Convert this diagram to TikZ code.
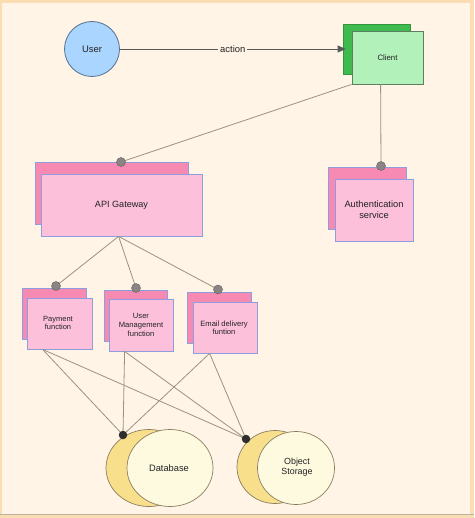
\documentclass[tikz,border=0pt]{standalone}
\usepackage{fontspec}
\setmainfont{Liberation Sans}
\usetikzlibrary{arrows.meta,shapes.geometric}
\definecolor{frameorange}{HTML}{FBDDB3}
\definecolor{cream}{HTML}{FFF4E6}
\definecolor{userfill}{HTML}{A9D5FF}
\definecolor{userstroke}{HTML}{56708F}
\definecolor{greenback}{HTML}{3EBA4E}
\definecolor{greenfront}{HTML}{B2F1B9}
\definecolor{greenstroke}{HTML}{5E7F62}
\definecolor{pinkback}{HTML}{F68AB3}
\definecolor{pinkfront}{HTML}{FCC0DA}
\definecolor{pinkstroke}{HTML}{8E9DDE}
\definecolor{yellowback}{HTML}{F8DF8C}
\definecolor{yellowfront}{HTML}{FEFADF}
\definecolor{ellstroke}{HTML}{8B7D62}
\definecolor{connline}{HTML}{9A9282}
\definecolor{topdot}{HTML}{8A8483}
\definecolor{botdot}{HTML}{2E2E2E}
\definecolor{txt}{HTML}{222222}
\begin{document}
\begin{tikzpicture}[x=1pt,y=-1pt,
  every node/.style={text=txt, align=center},
  f95/.style={font=\fontsize{9.4}{11}\selectfont},
  f78/.style={font=\fontsize{7.8}{9}\selectfont},
  f75/.style={font=\fontsize{7.5}{8.6}\selectfont},
  f9/.style={font=\fontsize{9.1}{10}\selectfont},
  card/.style={rectangle, inner sep=0pt, line width=0.8pt},
  greenB/.style={card, fill=greenback, draw=greenback!80!black},
  greenF/.style={card, fill=greenfront, draw=greenstroke},
  pinkB/.style={card, fill=pinkback, draw=pinkstroke},
  pinkF/.style={card, fill=pinkfront, draw=pinkstroke},
  ellB/.style={ellipse, inner sep=0pt, fill=yellowback, draw=ellstroke, line width=0.7pt},
  ellF/.style={ellipse, inner sep=0pt, fill=yellowfront, draw=ellstroke, line width=0.7pt},
  conn/.style={draw=connline, line width=0.8pt},
  tdot/.style={circle, inner sep=0pt, minimum size=9pt, fill=topdot, draw=topdot!70!black, line width=0.4pt},
  bdot/.style={circle, inner sep=0pt, minimum size=8.5pt, fill=botdot},
  plain/.style={inner sep=0pt}
]
\useasboundingbox (0,0) rectangle (474,518);
\fill[frameorange] (0,0) rectangle (474,518);
\fill[cream] (2,3) rectangle (470,514.5);
\draw[draw=ellstroke!60, line width=0.5pt] (0,514.7) -- (474,514.7);

% User and client
\node[circle, minimum size=55pt, inner sep=0pt, fill=userfill, draw=userstroke, line width=0.8pt, f95] (user) at (92,49) {User};
\node[greenB, minimum width=67pt, minimum height=50pt] (clientB) at (376.5,49) {};
\node[greenF, minimum width=71pt, minimum height=53pt] (clientF) at (387.5,57.5) {};
\node[plain, f78] (clientT) at (387.5,58) {Client};
\draw[draw=black!65, line width=0.8pt, -{Triangle[length=8pt,width=7pt]}] (user.east) -- node[fill=cream, inner sep=2pt, f95] (action) {action} ([xshift=3pt]clientB.west);

% API gateway and auth
\node[pinkB, minimum width=153pt, minimum height=62pt] (apiB) at (111.5,193) {};
\node[pinkF, minimum width=161pt, minimum height=62pt] (apiF) at (121.5,205) {};
\node[plain, f9] (apiT) at (121.5,205) {API Gateway};
\node[pinkB, minimum width=78pt, minimum height=62pt] (authB) at (367,198) {};
\node[pinkF, minimum width=78pt, minimum height=62pt] (authF) at (374,210) {};
\node[plain, font=\fontsize{9.3}{11}\selectfont] (authT) at (374,210) {Authentication\\service};

% functions
\node[pinkB, minimum width=64pt, minimum height=51pt] (payB) at (54,313.5) {};
\node[pinkF, minimum width=65pt, minimum height=51pt] (payF) at (59.5,323.5) {};
\node[plain, font=\fontsize{7.5}{8.4}\selectfont] (payT) at (58,323) {Payment\\function};
\node[pinkB, minimum width=63pt, minimum height=51pt] (umB) at (135.5,315.5) {};
\node[pinkF, minimum width=64pt, minimum height=52pt] (umF) at (141,325) {};
\node[plain, font=\fontsize{7.6}{8.7}\selectfont] (umT) at (141,325) {User\\Management\\function};
\node[pinkB, minimum width=64pt, minimum height=51pt] (emB) at (219,317.5) {};
\node[pinkF, minimum width=64pt, minimum height=51pt] (emF) at (225,327.5) {};
\node[plain, font=\fontsize{7.6}{8.5}\selectfont] (emT) at (224,328) {Email delivery\\funtion};

% storage
\node[ellB, minimum width=86pt, minimum height=77pt] (dbB) at (149,468) {};
\node[ellF, minimum width=86pt, minimum height=77pt] (dbF) at (170,468) {};
\node[plain, font=\fontsize{9.3}{11}\selectfont] (dbT) at (169,468) {Database};
\node[ellB, minimum width=76pt, minimum height=73pt] (osB) at (275,467) {};
\node[ellF, minimum width=77pt, minimum height=73pt] (osF) at (296,468) {};
\node[plain, font=\fontsize{8.9}{10}\selectfont] (osT) at (297,467) {Object\\Storage};

% connection points
\coordinate (apiIn) at (121,162);
\coordinate (authIn) at (381,166);
\coordinate (payIn) at (56,286);
\coordinate (umIn) at (136,288);
\coordinate (emIn) at (218,289.5);
\coordinate (dbIn) at (123,435);
\coordinate (osIn) at (246,439);
\coordinate (clientOut) at ([xshift=29pt]clientF.south west);
\coordinate (apiOut) at ([xshift=78pt]apiF.south west);
\coordinate (payOut) at ([xshift=16pt]payF.south west);
\coordinate (umOut) at ([xshift=16pt]umF.south west);
\coordinate (emOut) at ([xshift=17pt]emF.south west);

\draw[conn] (clientF.south west) -- (apiIn);
\draw[conn] (clientOut) -- (authIn);
\draw[conn] (apiOut) -- (payIn);
\draw[conn] (apiOut) -- (umIn);
\draw[conn] (apiOut) -- (emIn);
\draw[conn] (payOut) -- (dbIn);
\draw[conn] (payOut) -- (osIn);
\draw[conn] (umOut) -- (dbIn);
\draw[conn] (umOut) -- (osIn);
\draw[conn] (emOut) -- (dbIn);
\draw[conn] (emOut) -- (osIn);

\node[tdot] (apiDot) at (apiIn) {};
\node[tdot] (authDot) at (authIn) {};
\node[tdot] (payDot) at (payIn) {};
\node[tdot] (umDot) at (umIn) {};
\node[tdot] (emDot) at (emIn) {};
\node[bdot] (dbDot) at (dbIn) {};
\node[bdot] (osDot) at (osIn) {};
\end{tikzpicture}
\end{document}
